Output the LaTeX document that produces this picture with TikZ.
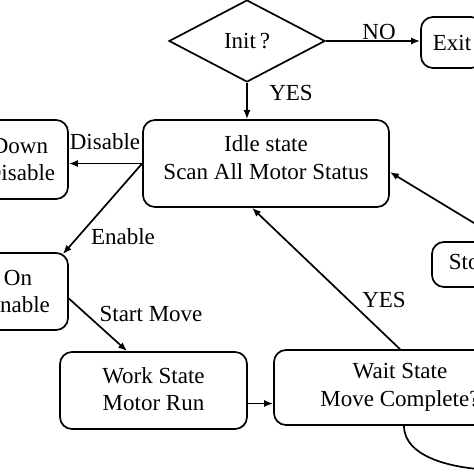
\documentclass[tikz,border=0pt]{standalone}
\usepackage{fontspec}
\setmainfont{Liberation Serif}
\usetikzlibrary{shapes.geometric,arrows.meta,calc}
\begin{document}
\begin{tikzpicture}[x=1pt,y=-1pt,
  every node/.style={font=\fontsize{23}{27.5}\selectfont},
  box/.style={draw, rounded corners=12pt, line width=1.7pt, align=center, inner sep=0pt},
  conn/.style={line width=1.7pt, -{Latex[length=9pt,width=7pt]}},
  plain/.style={line width=1.7pt},
  lbl/.style={inner sep=0pt}]
\useasboundingbox (0,0) rectangle (474,474);
\clip (0,0) rectangle (474,474);

\node[draw, diamond, line width=1.7pt, minimum width=156pt, minimum height=82pt, inner sep=0pt] (init) at (247,41) {Init\,?};
\node[box, minimum width=62pt, minimum height=51pt] (exit) at (452,42.5) {Exit};
\node[box, minimum width=246pt, minimum height=87pt, text depth=12pt] (idle) at (266,163.5) {Idle state\\Scan All Motor Status};
\node[box, minimum width=96pt, minimum height=79pt] (down) at (20,159.5) {Down\\Disable};
\node[box, minimum width=100pt, minimum height=77pt] (on) at (18,291.5) {On\\Enable};
\node[box, minimum width=187pt, minimum height=77pt, text depth=3pt] (work) at (153.5,390.5) {Work State\\Motor Run};
\node[box, minimum width=252pt, minimum height=75pt] (wait) at (400,387.5) {Wait State\\Move Complete?};
\node[box, minimum width=76pt, minimum height=45pt] (stop) at (470,264.5) {Stop};

\coordinate (topin) at (247,-20);
\coordinate (loopend) at (500,470);

\draw[plain] (topin) -- (init.north);
\draw[conn] (init.east) -- (init.east -| exit.west);
\draw[conn] (init.south) -- (init.south |- idle.north);
\draw[conn] (idle.west) -- (idle.west -| down.east);
\draw[conn] (idle.west) -- ([xshift=-6pt,yshift=-2pt]on.north east);
\draw[conn] ([yshift=-7pt]on.east) -- ([xshift=68pt]work.north west);
\draw[conn] ([yshift=-13pt]work.east) -- ([yshift=-13pt]work.east -| wait.west);
\draw[conn] (wait.north) -- ([xshift=-14pt]idle.south);
\draw[conn] ([xshift=-5pt]stop.north east) -- ([yshift=-8.5pt]idle.east);
\draw[plain] ([xshift=4pt]wait.south) .. controls +(0,32) and +(-45,0) .. (loopend);

\node[lbl] (no) at (379,32) {NO};
\node[lbl] (yes1) at (291,92.5) {YES};
\node[lbl] (dis) at (105,142) {Disable};
\node[lbl] (en) at (123,237) {Enable};
\node[lbl] (sm) at (151,314) {Start Move};
\node[lbl] (yes2) at (384,300) {YES};
\end{tikzpicture}
\end{document}
